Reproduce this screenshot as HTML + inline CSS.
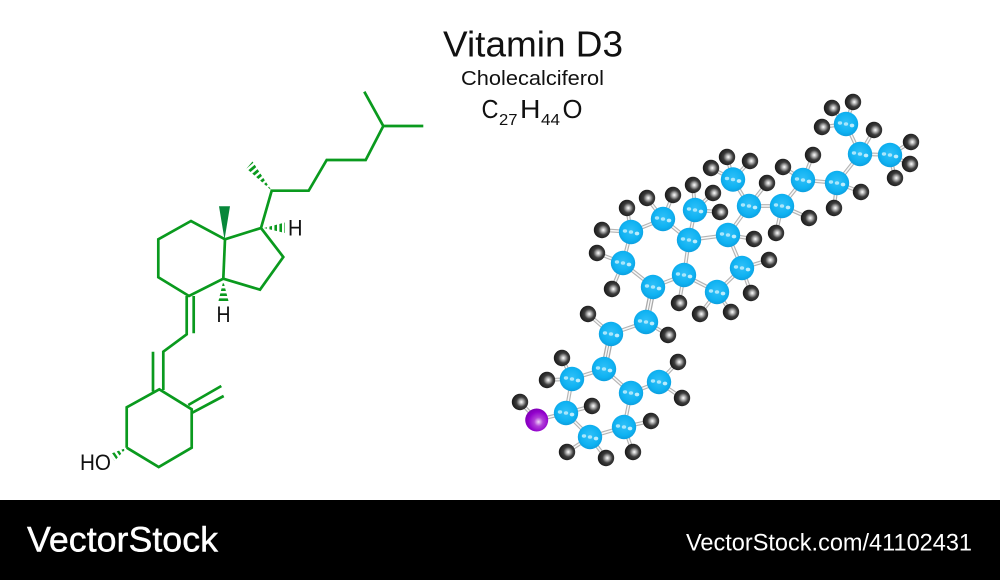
<!DOCTYPE html>
<html><head><meta charset="utf-8"><title>Vitamin D3</title>
<style>html,body{margin:0;padding:0;background:#fff}svg{display:block}text{font-family:"Liberation Sans",sans-serif}</style>
</head><body>
<svg width="1000" height="580" viewBox="0 0 1000 580" xmlns="http://www.w3.org/2000/svg">
<defs>
<radialGradient id="bl" cx="50%" cy="45%" r="55%"><stop offset="0" stop-color="#30c0f8"/><stop offset=".72" stop-color="#0fb2f2"/><stop offset="1" stop-color="#0d9fdf"/></radialGradient>
<radialGradient id="bk" cx="58%" cy="50%" r="55%"><stop offset="0" stop-color="#fff"/><stop offset=".22" stop-color="#b8b8b8"/><stop offset=".55" stop-color="#3c3c3c"/><stop offset="1" stop-color="#1a1a1a"/></radialGradient>
<radialGradient id="pu" cx="58%" cy="58%" r="55%"><stop offset="0" stop-color="#f2d8f8"/><stop offset=".35" stop-color="#b13fd8"/><stop offset=".8" stop-color="#9200cc"/><stop offset="1" stop-color="#8400bb"/></radialGradient>
<g id="B"><circle r="12.2" fill="url(#bl)"/><ellipse cx="-6" cy="-1" rx="2.2" ry="1.7" fill="#a8e6fc"/><ellipse cx="0" cy="0" rx="2.2" ry="1.8" fill="#a8e6fc"/><ellipse cx="6" cy="1.5" rx="2.3" ry="1.9" fill="#bcecfd"/></g>
<circle id="K" r="8.2" fill="url(#bk)"/>
<path id="bonds" d="M846 124L860 154L890 155M860 154L837 183L803 180L782 206L749 206L733 179.5M749 206L728 235L689 240L695 210M689 240L663 219L631 232L623 263L653 287L684 275L689 240M728 235L742 268L717 292L684 275M646 322L611 334M604 369L572 379L566 413L590 437L624 427L631 393L604 369M631 393L659 382M566 413L537 420L520 402M846 124L832 108M846 124L853 102M846 124L822 127M860 154L874 130M890 155L911 142M890 155L910 164M890 155L895 178M837 183L861 192M837 183L834 208M803 180L813 155M803 180L783 167M782 206L809 218M782 206L776 233M749 206L767 183M733 179.5L727 157M733 179.5L711 168M733 179.5L750 161M728 235L754 239M742 268L769 260M742 268L751 293M717 292L731 312M717 292L700 314M684 275L679 303M695 210L693 185M695 210L713 193M695 210L720 212M663 219L673 195M663 219L647 198M631 232L627 208M631 232L602 230M623 263L597 253M623 263L612 289M611 334L588 314M646 322L668 335M572 379L562 358M572 379L547 380M566 413L592 406M659 382L678 362M659 382L682 398M624 427L651 421M624 427L633 452M590 437L606 458M590 437L567 452"/>
<path id="triple" d="M653 287L646 322M611 334L604 369"/>
</defs>
<rect width="1000" height="580" fill="#fff"/>

<text x="443" y="56.5" font-size="36" textLength="180" lengthAdjust="spacingAndGlyphs" fill="#111">Vitamin D3</text>
<text x="461" y="85" font-size="20.5" textLength="143" lengthAdjust="spacingAndGlyphs" fill="#111">Cholecalciferol</text>
<text x="481.5" y="118" font-size="25.5" textLength="17" lengthAdjust="spacingAndGlyphs" fill="#111">C</text>
<text x="499" y="125" font-size="15.5" textLength="18.5" lengthAdjust="spacingAndGlyphs" fill="#111">27</text>
<text x="520" y="118" font-size="25.5" textLength="20.5" lengthAdjust="spacingAndGlyphs" fill="#111">H</text>
<text x="541" y="125" font-size="15.5" textLength="19" lengthAdjust="spacingAndGlyphs" fill="#111">44</text>
<text x="562.5" y="118" font-size="25.5" textLength="20" lengthAdjust="spacingAndGlyphs" fill="#111">O</text>

<!-- hashed bonds -->
<polygon points="271.7,190.7 246.5,168.5 252.5,161.5" fill="#0a9a1e"/>
<line x1="272" y1="191" x2="246" y2="160" stroke="#fff" stroke-width="12" stroke-dasharray="2.4 2.8"/>
<polygon points="264,228 285,222.5 285,233" fill="#0a9a1e"/>
<line x1="267" y1="228" x2="287" y2="228" stroke="#fff" stroke-width="12" stroke-dasharray="2.4 2.6"/>
<polygon points="223.3,281 218,303 229,303" fill="#0a9a1e"/>
<line x1="223.3" y1="281" x2="223.3" y2="304" stroke="#fff" stroke-width="13" stroke-dasharray="2.4 2.6"/>
<polygon points="126.7,447.7 110,454 114.5,461" fill="#0a9a1e"/>
<line x1="126" y1="448" x2="110" y2="459" stroke="#fff" stroke-width="11" stroke-dasharray="2.4 2.4"/>

<!-- skeleton -->
<g fill="none" stroke="#0a9a1e" stroke-width="2.7" stroke-linejoin="miter" stroke-linecap="butt">
<path d="M364.3 91.7L383.3 126H423.3M383.3 126L365.7 160H326.7L308.7 190.7H271.7L261 228L225 239.3L191 221L158.3 239.3V277.3L189 296L223.3 278.7L260 289.7L283.3 257L261 228"/>
<path d="M225 239.3L223.3 278.7"/>
<path d="M186.7 296V334.3L163.3 351.7V390M193.7 296V333.3M153 351.7V391.5"/>
<path d="M126.7 447.7V407.3L159.3 389.3L191.7 409.3V447.7L158.7 467L126.7 447.7"/>
<path d="M188.3 405L221.3 386M192.3 412.7L223.7 396"/>
</g>
<polygon points="224.5,239.5 219,206.3 230,206.3" fill="#07873a"/>

<text x="288" y="235.5" font-size="22" fill="#111" textLength="14.5" lengthAdjust="spacingAndGlyphs">H</text>
<text x="216.5" y="322" font-size="22" fill="#111" textLength="14" lengthAdjust="spacingAndGlyphs">H</text>
<text x="80" y="470" font-size="22.5" fill="#111" textLength="31" lengthAdjust="spacingAndGlyphs">HO</text>

<!-- bonds -->
<g fill="none">
<use href="#bonds" stroke="#b4b4b4" stroke-width="3.8"/>
<use href="#bonds" stroke="#f8f8f8" stroke-width="1.5"/>
<use href="#triple" stroke="#aaa" stroke-width="6.6"/>
<use href="#triple" stroke="#f8f8f8" stroke-width="4"/>
<use href="#triple" stroke="#aaa" stroke-width="1"/>
</g>

<!-- hydrogens -->
<use href="#K" x="832" y="108"/><use href="#K" x="853" y="102"/><use href="#K" x="822" y="127"/><use href="#K" x="874" y="130"/>
<use href="#K" x="911" y="142"/><use href="#K" x="910" y="164"/><use href="#K" x="895" y="178"/><use href="#K" x="861" y="192"/>
<use href="#K" x="834" y="208"/><use href="#K" x="813" y="155"/><use href="#K" x="783" y="167"/><use href="#K" x="809" y="218"/>
<use href="#K" x="776" y="233"/><use href="#K" x="767" y="183"/><use href="#K" x="727" y="157"/><use href="#K" x="711" y="168"/>
<use href="#K" x="750" y="161"/><use href="#K" x="754" y="239"/><use href="#K" x="769" y="260"/><use href="#K" x="751" y="293"/>
<use href="#K" x="731" y="312"/><use href="#K" x="700" y="314"/><use href="#K" x="679" y="303"/><use href="#K" x="693" y="185"/>
<use href="#K" x="713" y="193"/><use href="#K" x="720" y="212"/><use href="#K" x="673" y="195"/><use href="#K" x="647" y="198"/>
<use href="#K" x="627" y="208"/><use href="#K" x="602" y="230"/><use href="#K" x="597" y="253"/><use href="#K" x="612" y="289"/>
<use href="#K" x="588" y="314"/><use href="#K" x="668" y="335"/><use href="#K" x="562" y="358"/><use href="#K" x="547" y="380"/>
<use href="#K" x="520" y="402"/><use href="#K" x="592" y="406"/><use href="#K" x="678" y="362"/><use href="#K" x="682" y="398"/>
<use href="#K" x="651" y="421"/><use href="#K" x="633" y="452"/><use href="#K" x="606" y="458"/><use href="#K" x="567" y="452"/>

<!-- carbons -->
<use href="#B" x="846" y="124"/><use href="#B" x="860" y="154"/><use href="#B" x="890" y="155"/><use href="#B" x="837" y="183"/>
<use href="#B" x="803" y="180"/><use href="#B" x="782" y="206"/><use href="#B" x="749" y="206"/><use href="#B" x="733" y="179.5"/>
<use href="#B" x="728" y="235"/><use href="#B" x="689" y="240"/><use href="#B" x="695" y="210"/><use href="#B" x="663" y="219"/>
<use href="#B" x="631" y="232"/><use href="#B" x="623" y="263"/><use href="#B" x="653" y="287"/><use href="#B" x="684" y="275"/>
<use href="#B" x="742" y="268"/><use href="#B" x="717" y="292"/><use href="#B" x="646" y="322"/><use href="#B" x="611" y="334"/>
<use href="#B" x="604" y="369"/><use href="#B" x="572" y="379"/><use href="#B" x="566" y="413"/><use href="#B" x="590" y="437"/>
<use href="#B" x="624" y="427"/><use href="#B" x="631" y="393"/><use href="#B" x="659" y="382"/>
<circle cx="536.7" cy="420" r="11.5" fill="url(#pu)"/>

<!-- footer -->
<rect y="500" width="1000" height="80" fill="#000"/>
<text x="27" y="551.5" font-size="35.5" fill="#fff" stroke="#fff" stroke-width=".4" textLength="191" lengthAdjust="spacingAndGlyphs">VectorStock</text>
<text x="686" y="550.5" font-size="24.5" fill="#fff" textLength="286" lengthAdjust="spacingAndGlyphs">VectorStock.com/41102431</text>
</svg>
</body></html>
